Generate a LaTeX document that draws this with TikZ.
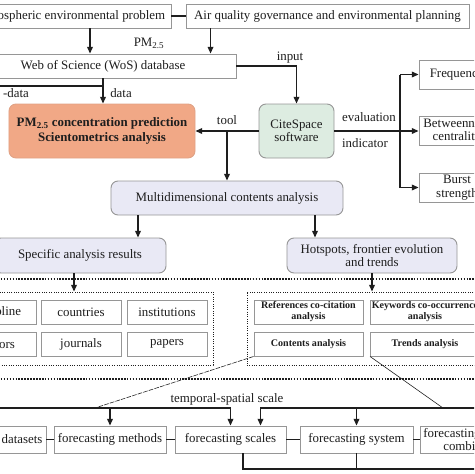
\documentclass[tikz,border=0pt]{standalone}
\usepackage{fontspec}
\setmainfont{Liberation Serif}
\usetikzlibrary{arrows.meta,positioning,calc}
\usepackage{xcolor}
\definecolor{pmOrange}{RGB}{241,168,134}
\definecolor{csGreen}{RGB}{221,236,225}
\definecolor{maLilac}{RGB}{233,233,245}
\definecolor{edgeGray}{RGB}{150,150,150}
\definecolor{inkGray}{RGB}{30,30,30}
\tikzset{
    plain/.style={
        draw=edgeGray,line width=0.8pt,fill=white,
        align=center,text=inkGray,inner sep=1pt,
        font=\fontsize{11}{11.5}\selectfont
    },
    soft/.style={
        plain,rounded corners=6pt,fill=#1
    },
    soft/.default=maLilac,
    small/.style={
        plain,font=\bfseries\fontsize{8.6}{9.4}\selectfont
    },
    group/.style={
        draw=inkGray,line width=0.8pt,dash pattern=on 0.8pt off 1.2pt,inner sep=0pt
    },
    divider/.style={
        draw=inkGray,line width=1.1pt,dash pattern=on 1.4pt off 1.1pt
    },
    arrow/.style={
        -{Triangle[length=2mm,width=1.7mm]},line width=1.1pt,draw=inkGray
    },
    link/.style={line width=1.1pt,draw=inkGray},
    tag/.style={text=inkGray,font=\fontsize{11}{11.5}\selectfont}
}

\begin{document}
\begin{tikzpicture}[x=0.03cm,y=-0.03cm]
\useasboundingbox (0,0) rectangle (474,474);
\clip (0,0) rectangle (474,474);

% sources
\node[plain,minimum width=6.06cm,minimum height=0.72cm](atmo) at (70,16)
{Atmospheric environmental problem};
\node[plain,minimum width=8.49cm,minimum height=0.72cm](air) at (327.5,16)
{Air quality governance and environmental planning};
\node[plain,minimum width=7.98cm,minimum height=0.72cm](wos) at (103,66)
{Web of Science (WoS) database};

\node[soft=pmOrange,draw=pmOrange!85!gray,minimum width=5.58cm,minimum height=1.62cm,
font=\bfseries\fontsize{11}{13}\selectfont](pm) at (102,131)
{PM\textsubscript{2.5} concentration prediction\\Scientometrics analysis};
\node[soft=csGreen,minimum width=2.25cm,minimum height=1.62cm](cite) at (296.5,131)
{CiteSpace\\software};

% indicators
\node[plain,minimum width=2.28cm,minimum height=0.87cm](freq) at (457,74.5) {Frequency};
\node[plain,minimum width=2.28cm,minimum height=0.87cm](betw) at (457,131) {Betweenness\\centrality};
\node[plain,minimum width=2.28cm,minimum height=0.87cm](burst) at (457,187.5) {Burst\\strength};

\node[soft,minimum width=6.96cm,minimum height=1.02cm](multi) at (227,198)
{Multidimensional contents analysis};
\node[soft,minimum width=5.16cm,minimum height=1.05cm](spec) at (80,255.5)
{Specific analysis results};
\node[soft,minimum width=5.1cm,minimum height=1.05cm](hot) at (372,255.5)
{Hotspots, frontier evolution\\and trends};

% result groups
\node[group,minimum width=6.69cm,minimum height=2.19cm](lgrp) at (101.5,328.5) {};
\node[group,minimum width=7.29cm,minimum height=2.19cm](rgrp) at (368.5,328.5) {};

\node[plain,minimum width=2.4cm,minimum height=0.72cm](disc) at (-4,312) {discipline};
\node[plain,minimum width=2.4cm,minimum height=0.72cm](coun) at (81,312) {countries};
\node[plain,minimum width=2.4cm,minimum height=0.72cm](inst) at (167,312) {institutions};
\node[plain,minimum width=2.4cm,minimum height=0.72cm](auth) at (-4,344) {authors};
\node[plain,minimum width=2.4cm,minimum height=0.72cm](jour) at (81,344) {journals};
\node[plain,minimum width=2.4cm,minimum height=0.72cm](pape) at (167,344) {papers};

\node[small,minimum width=3.27cm,minimum height=0.72cm](refc) at (308.5,312)
{References co-citation\\analysis};
\node[small,minimum width=3.27cm,minimum height=0.72cm](keyc) at (425,312)
{Keywords co-occurrence\\analysis};
\node[small,minimum width=3.27cm,minimum height=0.72cm](cont) at (308.5,344) {Contents analysis};
\node[small,minimum width=3.27cm,minimum height=0.72cm](trnd) at (425,344) {Trends analysis};

% forecasting row
\node[plain,minimum width=1.44cm,minimum height=0.81cm](dset) at (22,439.5) {datasets};
\node[plain,minimum width=3.36cm,minimum height=0.81cm](meth) at (110,439.5) {forecasting methods};
\node[plain,minimum width=3.33cm,minimum height=0.81cm](scal) at (230.5,439.5) {forecasting scales};
\node[plain,minimum width=3.39cm,minimum height=0.81cm](syst) at (356.5,439.5) {forecasting system};
\node[plain,minimum width=3.33cm,minimum height=0.81cm,font=\fontsize{11}{10.5}\selectfont](comb) at (475.5,439.5)
{forecasting methods\\combination};

\coordinate (dl) at (-5,86);
\coordinate (ev) at (400,131);
\coordinate (xa) at (138,0);
\coordinate (xb) at (315,0);
\coordinate (xc) at (74,0);
\coordinate (cl) at (95,408);
\coordinate (cr) at (443,408);
\coordinate (bl) at (-5,408);
\coordinate (br) at (480,408);
\coordinate (bb) at (480,469);

\draw[link](atmo)--(air);
\draw[arrow]([xshift=0.6cm]atmo.south)--([xshift=0.6cm]atmo.south |- wos.north);
\draw[arrow]([xshift=0.75cm]air.south west)--([xshift=0.75cm]air.south west |- wos.north);
\node[tag] at (149,43) {PM\textsubscript{2.5}};

\draw[arrow](wos.south)--(wos.south |- pm.north);
\draw[link](wos.south |- dl)--(dl);
\node[tag,anchor=west] at (-1,93) {-data};
\node[tag] at (121,93) {data};

\draw[arrow](wos.east)-|(cite.north);
\node[tag] at (290,58) {input};

\draw[arrow](cite.west)--(pm.east);
\node[tag] at (227,120) {tool};
\draw[arrow](multi.north |- cite.west)--(multi.north);

\draw[arrow](cite.east)--(betw.west);
\node[tag] at (369,117) {evaluation};
\node[tag] at (365,143) {indicator};
\draw[link](ev |- freq.west)--(ev |- burst.west);
\draw[arrow](ev |- freq.west)--(freq.west);
\draw[arrow](ev |- burst.west)--(burst.west);

\draw[arrow](multi.south -| xa)--(spec.north -| xa);
\draw[arrow](multi.south -| xb)--(hot.north -| xb);

\draw[divider](-5,279)--(480,279);
\draw[divider](-5,379)--(480,379);

\draw[arrow](spec.south -| xc)--(lgrp.north -| xc);
\draw[arrow](hot.south)--(hot.south |- rgrp.north);

\draw[draw=inkGray,line width=0.5pt,dash pattern=on 4pt off 1pt](cont.south west)--(cl);
\draw[draw=inkGray,line width=0.5pt](trnd.south west)--(cr);

\draw[arrow](bl)-|(scal.north);
\draw[arrow](meth.north |- bl)--(meth.north);
\draw[arrow](br)-|([xshift=0.9cm]scal.north);
\draw[arrow](syst.north |- br)--(syst.north);
\node[tag] at (227,399) {temporal-spatial scale};

\draw[link](dset)--(meth);
\draw[link](meth)--(scal);
\draw[link](scal)--(syst);
\draw[link](syst)--(comb);
\draw[link]([xshift=0.375cm]scal.south)|-(bb);
\draw[link](syst.south)--(syst.south |- bb);

\end{tikzpicture}
\end{document}
